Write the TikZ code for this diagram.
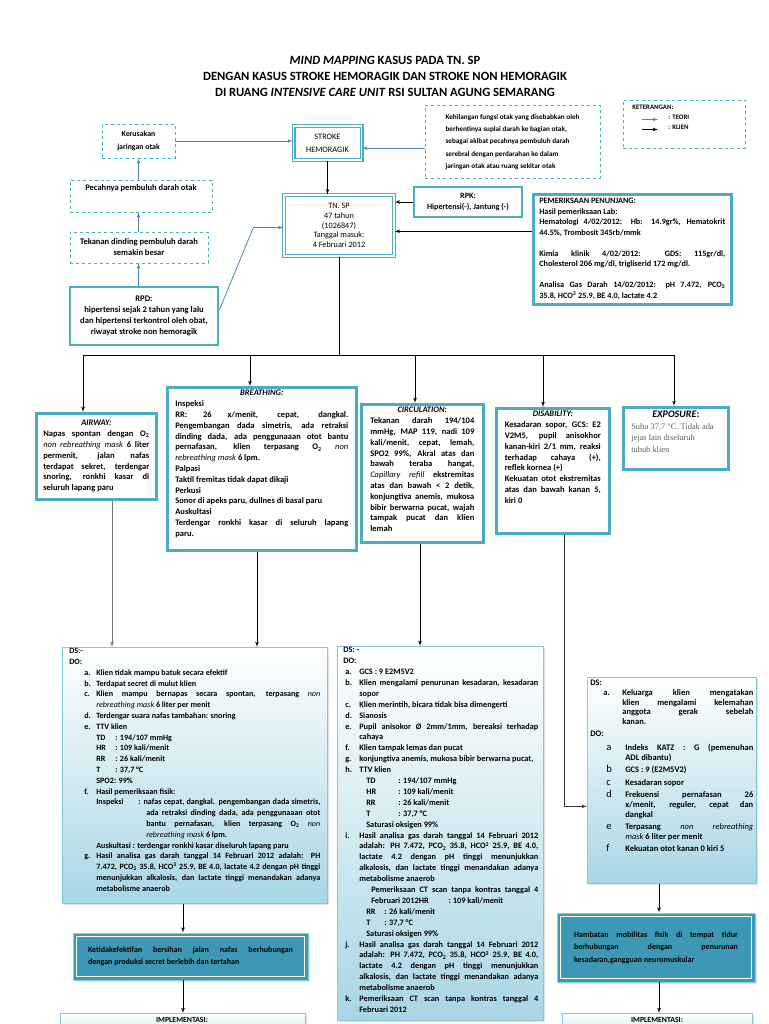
\documentclass[tikz,border=0pt]{standalone}
\usepackage{fontspec}
\setmainfont{Carlito}
\newfontfamily\exposurefont{Liberation Serif}
\usepackage{tikz}
\usetikzlibrary{arrows, positioning, shadows}

\definecolor{aqua}{RGB}{75,172,198}
\definecolor{teoriblue}{RGB}{79,129,189}
\definecolor{aqualight}{RGB}{168,214,228}
\definecolor{aquadeep}{RGB}{60,152,181}
\definecolor{aquaedge}{RGB}{135,198,216}
\definecolor{exposuregray}{RGB}{95,95,95}

\hyphenpenalty=10000
\exhyphenpenalty=10000
\tolerance=9999
\emergencystretch=2em
\hbadness=10000
\vbadness=10000
\hfuzz=4pt
\vfuzz=40pt

% Word-like spacing: spaces may stretch but never shrink
\newcommand{\noshrink}{\spaceskip=\fontdimen2\font plus 1.5\fontdimen3\font\relax}
\newcommand{\bodyfont}{\fontsize{8.5}{10.8}\selectfont\bfseries\noshrink}
\newcommand{\ital}[1]{{\mdseries\itshape #1}}
\newcommand{\tbox}[3]{\parbox[t][#2][t]{#1}{#3}}

% indents for the DS/DO lists
\newlength{\lblind}
\newlength{\txtind}
\newlength{\ttvind}
\newlength{\ttvw}
\newcommand{\itm}[2]{\par\noindent\hangindent=\txtind\hangafter=1\hspace*{\lblind}\makebox[\dimexpr\txtind-\lblind\relax][l]{#1}#2}
\newcommand{\ttv}[2]{\par\noindent\hspace*{\ttvind}\makebox[\ttvw][l]{#1}#2}
\newcommand{\subline}[1]{\par\noindent\hspace*{\ttvind}#1}
\newcommand{\ditm}[2]{\par\vspace{3pt}\noindent\hangindent=35pt\hangafter=1\hspace*{16pt}\makebox[19pt][l]{\mdseries\fontsize{10.5}{9.6}\selectfont #1}#2}

\begin{document}
\begin{tikzpicture}[x=1pt, y=-1pt]

% Define block styles
\tikzstyle{block} = [rectangle, draw=aqua, line width=2.6pt, fill=white, inner sep=0pt]
\tikzstyle{double block} = [rectangle, draw=aqua, line width=1.2pt, double=white,
  double distance=1.6pt, fill=white, align=center, inner sep=2pt]
\tikzstyle{dashbox} = [rectangle, draw=aqua, dashed, line width=0.9pt, inner sep=3pt,
  font=\fontsize{8.5}{11}\selectfont\bfseries]
\tikzstyle{theory} = [dashbox, align=center]
\tikzstyle{data} = [rectangle, draw=aquaedge, line width=0.6pt, top color=white,
  bottom color=aqualight, inner sep=0pt, anchor=north west,
  drop shadow={opacity=0.22, shadow xshift=1.5pt, shadow yshift=-1.5pt}]
\tikzstyle{problem} = [rectangle, draw=aqua!60, line width=0.8pt, fill=aquadeep,
  text width=#1, align=justify, font=\fontsize{8}{12.4}\selectfont\bfseries,
  drop shadow={opacity=0.25, shadow xshift=1.5pt, shadow yshift=-1.5pt}]
\tikzstyle{line} = [draw, -latex', line width=0.8pt]
\tikzstyle{teori line} = [line, color=teoriblue]

\useasboundingbox (0,0) rectangle (768,1024);
\clip (0,0) rectangle (768,1024);

% Title
\node [align=center, font=\fontsize{12.6}{16}\selectfont\bfseries] (judul) at (385,76)
  {\textit{MIND MAPPING} KASUS PADA TN. SP\\
   DENGAN KASUS STROKE HEMORAGIK DAN STROKE NON HEMORAGIK\\
   DI RUANG \textit{INTENSIVE CARE UNIT} RSI SULTAN AGUNG SEMARANG};

% Legend
\node [dashbox, anchor=north west, inner sep=0pt, font=\fontsize{6.8}{10}\selectfont\bfseries]
  (ket) at (623,100)
  {\tbox{122pt}{48pt}{\vspace*{5pt}\hspace*{9pt}KETERANGAN:\\
   \hspace*{45pt}: TEORI\\ \hspace*{45pt}: KLIEN}};
\coordinate (teoriL) at (642,119.5);
\coordinate (klienL) at (642,129.5);

% Nodes: theory chain
\node [theory, minimum width=73pt, minimum height=34pt,
  font=\fontsize{7.8}{13.6}\selectfont\bfseries] (kerusakan) at (138.5,141)
  {Kerusakan\\jaringan otak};
\node [dashbox, minimum width=142pt, minimum height=32pt, text height=6.5pt,
  text depth=16.5pt] (pecahnya) at (141,196) {Pecahnya pembuluh darah otak};
\node [theory, minimum width=138pt, minimum height=31pt] (tekanan) at (139,247.5)
  {Tekanan dinding pembuluh darah\\semakin besar};
\node [block, minimum width=148pt, minimum height=58pt, align=center,
  font=\fontsize{8.6}{11.2}\selectfont\bfseries] (rpd) at (144,316)
  {RPD:\\hipertensi sejak 2 tahun yang lalu\\dan hipertensi terkontrol oleh obat,\\
   riwayat stroke non hemoragik};

\node [double block, minimum width=68pt, minimum height=34pt,
  font=\fontsize{8.3}{13}\selectfont] (stroke) at (327.5,143) {STROKE\\HEMORAGIK};
\node [theory, minimum width=175pt, minimum height=73pt, align=left,
  font=\fontsize{7.2}{12.4}\selectfont\bfseries] (kehilangan) at (512.5,142)
  {Kehilangan fungsi otak yang disebabkan oleh\\
   berhentinya suplai darah ke bagian otak,\\
   sebagai akibat pecahnya pembuluh darah\\
   serebral dengan perdarahan ke dalam\\
   jaringan otak atau ruang sekitar otak};

% Nodes: client
\node [double block, minimum width=110pt, minimum height=61pt,
  font=\fontsize{8.2}{9.7}\selectfont] (tnsp) at (339,225.5)
  {TN. SP\\47 tahun\\(1026847)\\Tanggal masuk:\\4 Februari 2012};
\node [block, minimum width=108pt, minimum height=30pt, align=center,
  font=\fontsize{8.1}{10.5}\selectfont\bfseries] (rpk) at (468,202)
  {RPK:\\Hipertensi(-), Jantung (-)};
\node [block, anchor=north west] (penunjang) at (532,193)
  {\hspace*{6pt}\tbox{186pt}{110pt}{\vspace*{4pt}\fontsize{8.2}{10.5}\selectfont\bfseries\noshrink
   PEMERIKSAAN PENUNJANG:\\
   Hasil pemeriksaan Lab:\\
   Hematologi 4/02/2012: Hb: 14.9gr\%, Hematokrit\linebreak 44.5\%, Trombosit 345rb/mmk\par
   \vspace{10.5pt}
   Kimia klinik 4/02/2012: GDS: 115gr/dl,\linebreak Cholesterol 206 mg/dl, trigliserid 172 mg/dl.\par
   \vspace{10.5pt}
   Analisa Gas Darah 14/02/2012: pH 7.472, PCO\textsubscript{2}\linebreak
   35.8, HCO\textsuperscript{3} 25.9, BE 4.0, lactate 4.2}\hspace*{6pt}};

% Nodes: primary survey
\node [block, anchor=north west, minimum width=120pt, minimum height=86pt,
  text width=106pt, align=justify, inner xsep=7pt, inner ysep=3pt, font=\bodyfont]
  (airway) at (35,412)
  {{\centering\textit{AIRWAY:}\par}
   Napas spontan dengan O\textsubscript{2}\linebreak \ital{non rebreathing mask} 6 liter\linebreak
   permenit, jalan nafas\linebreak terdapat sekret, terdengar\linebreak snoring, ronkhi kasar
   di\linebreak seluruh lapang paru};
\node [block, anchor=north west] (breathing) at (166,386)
  {\hspace*{8pt}\tbox{173pt}{163pt}{\vspace*{3pt}\bodyfont
   {\centering\textit{BREATHING:}\par}
   Inspeksi\par
   RR: 26 x/menit, cepat, dangkal.\linebreak Pengembangan dada simetris, ada retraksi\linebreak
   dinding dada, ada penggunaaan otot bantu\linebreak pernafasan, klien terpasang
   O\textsubscript{2} \ital{non}\linebreak \ital{rebreathing mask} 6 lpm.\par
   Palpasi\par
   Taktil fremitas tidak dapat dikaji\par
   Perkusi\par
   Sonor di apeks paru, dullnes di basal paru\par
   Auskultasi\par
   Terdengar ronkhi kasar di seluruh lapang\linebreak paru.}\hspace*{8pt}};
\node [block, anchor=north west] (circulation) at (360,403)
  {\hspace*{9pt}\tbox{104pt}{138pt}{\vspace*{3pt}\bodyfont
   {\centering\textit{CIRCULATION:}\par}
   Tekanan darah 194/104\linebreak mmHg, MAP 119, nadi 109\linebreak kali/menit, cepat,
   lemah,\linebreak SPO2 99\%, Akral atas dan\linebreak bawah teraba hangat,\linebreak
   \ital{Capillary refill} ekstremitas\linebreak atas dan bawah < 2 detik,\linebreak
   konjungtiva anemis, mukosa\linebreak bibir berwarna pucat, wajah\linebreak tampak pucat
   dan klien\linebreak lemah}\hspace*{9pt}};
\node [block, anchor=north west] (disability) at (495,407)
  {\hspace*{8.5pt}\tbox{96pt}{125pt}{\vspace*{3pt}\bodyfont
   {\centering\textit{DISABILITY:}\par}
   Kesadaran sopor, GCS: E2\linebreak V2M5, pupil anisokhor\linebreak kanan-kiri 2/1 mm,
   reaksi\linebreak terhadap cahaya (+),\linebreak reflek kornea (+)\par
   Kekuatan otot ekstremitas\linebreak atas dan bawah kanan 5,\linebreak kiri 0}\hspace*{8.5pt}};
\node [block, anchor=north west] (exposure) at (622,406)
  {\hspace*{8pt}\tbox{89pt}{62pt}{\vspace*{4pt}
   {\centering\fontsize{10}{12}\selectfont\bfseries\textit{EXPOSURE}:\par}
   {\raggedright\exposurefont\fontsize{8.4}{11.4}\selectfont\color{exposuregray}
   Suhu 37,7 °C. Tidak ada\\ jejas lain diseluruh\\ tubuh klien\par}}\hspace*{8pt}};

% Nodes: data
\node [data] (ds1) at (62,647)
  {\hspace*{7pt}\tbox{251pt}{256pt}{\vspace*{1pt}\fontsize{8.1}{10.8}\selectfont\bfseries\noshrink
   \setlength{\lblind}{15pt}\setlength{\txtind}{27pt}%
   \setlength{\ttvind}{27pt}\setlength{\ttvw}{19pt}%
   \noindent DS:-\par\noindent DO:
   \itm{a.}{Klien tidak mampu batuk secara efektif}
   \itm{b.}{Terdapat secret di mulut klien}
   \itm{c.}{Klien mampu bernapas secara spontan, terpasang \ital{non}\linebreak
     \ital{rebreathing mask} 6 liter per menit}
   \itm{d.}{Terdengar suara nafas tambahan: snoring}
   \itm{e.}{TTV klien}
   \ttv{TD}{: 194/107 mmHg}
   \ttv{HR}{: 109 kali/menit}
   \ttv{RR}{: 26 kali/menit}
   \ttv{T}{: 37,7 °C}
   \subline{SPO2: 99\%}
   \itm{f.}{Hasil pemeriksaan fisik:}
   \par\noindent\hangindent=77pt\hangafter=1\hspace*{27pt}\makebox[42pt][l]{Inspeksi}:
   nafas cepat, dangkal. pengembangan dada simetris,\linebreak ada retraksi dinding dada, ada
   penggunaaan otot\linebreak bantu pernafasan, klien terpasang O\textsubscript{2}
   \ital{non}\linebreak \ital{rebreathing mask} 6 lpm.
   \subline{Auskultasi : terdengar ronkhi kasar diseluruh lapang paru}
   \itm{g.}{Hasil analisa gas darah tanggal 14 Februari 2012 adalah: PH\linebreak 7.472,
     PCO\textsubscript{2} 35.8, HCO\textsuperscript{3} 25.9, BE 4.0, lactate 4.2 dengan
     pH tinggi\linebreak menunjukkan alkalosis, dan lactate tinggi menandakan adanya\linebreak
     metabolisme anaerob}}\hspace*{7pt}};
\node [data] (ds2) at (337,646)
  {\hspace*{6pt}\tbox{195pt}{374pt}{\vspace*{1pt}\fontsize{8.3}{10.9}\selectfont\bfseries\noshrink
   \setlength{\lblind}{2pt}\setlength{\txtind}{16pt}%
   \setlength{\ttvind}{23pt}\setlength{\ttvw}{32pt}%
   \noindent DS: -\par\noindent DO:
   \itm{a.}{GCS : 9 E2M5V2}
   \itm{b.}{Klien mengalami penurunan kesadaran, kesadaran\linebreak sopor}
   \itm{c.}{Klien merintih, bicara tidak bisa dimengerti}
   \itm{d.}{Sianosis}
   \itm{e.}{Pupil anisokor Ø 2mm/1mm, bereaksi terhadap\linebreak cahaya}
   \itm{f.}{Klien tampak lemas dan pucat}
   \itm{g.}{konjungtiva anemis, mukosa bibir berwarna pucat,}
   \itm{h.}{TTV klien}
   \ttv{TD}{: 194/107 mmHg}
   \ttv{HR}{: 109 kali/menit}
   \ttv{RR}{: 26 kali/menit}
   \ttv{T}{: 37,7 °C}
   \subline{Saturasi oksigen 99\%}
   \itm{i.}{Hasil analisa gas darah tanggal 14 Februari 2012\linebreak adalah: PH 7.472,
     PCO\textsubscript{2} 35.8, HCO\textsuperscript{3} 25.9, BE 4.0,\linebreak lactate 4.2
     dengan pH tinggi menunjukkan\linebreak alkalosis, dan lactate tinggi menandakan
     adanya\linebreak metabolisme anaerob}
   \par\noindent\hangindent=28pt\hangafter=1\hspace*{28pt}Pemeriksaan CT scan tanpa
   kontras tanggal 4\linebreak Februari 2012HR\hspace{20pt}: 109 kali/menit
   \setlength{\ttvw}{18pt}%
   \ttv{RR}{: 26 kali/menit}
   \ttv{T}{: 37,7 °C}
   \subline{Saturasi oksigen 99\%}
   \itm{j.}{Hasil analisa gas darah tanggal 14 Februari 2012\linebreak adalah: PH 7.472,
     PCO\textsubscript{2} 35.8, HCO\textsuperscript{3} 25.9, BE 4.0,\linebreak lactate 4.2
     dengan pH tinggi menunjukkan\linebreak alkalosis, dan lactate tinggi menandakan
     adanya\linebreak metabolisme anaerob}
   \itm{k.}{Pemeriksaan CT scan tanpa kontras tanggal 4\linebreak Februari 2012}}\hspace*{5pt}};
\node [data] (ds3) at (587,677)
  {\hspace*{3pt}\tbox{163pt}{206pt}{\vspace*{3pt}\fontsize{8.5}{9.6}\selectfont\bfseries\noshrink
   \noindent DS:
   \par\noindent\hangindent=32pt\hangafter=1\hspace*{13pt}\makebox[19pt][l]{a.}Keluarga
   klien mengatakan\linebreak klien mengalami kelemahan\linebreak anggota gerak
   sebelah\linebreak kanan.
   \par\vspace{3pt}\noindent DO:\par\vspace{1pt}
   \ditm{a}{Indeks KATZ : G (pemenuhan\linebreak ADL dibantu)}
   \ditm{b}{GCS : 9 (E2M5V2)}
   \ditm{c}{Kesadaran sopor}
   \ditm{d}{Frekuensi pernafasan 26\linebreak x/menit, reguler, cepat dan\linebreak dangkal}
   \ditm{e}{Terpasang \ital{non rebreathing}\linebreak \ital{mask} 6 liter per menit}
   \ditm{f}{Kekuatan otot kanan 0 kiri 5}}\hspace*{3pt}};

% Nodes: diagnoses
\node [problem=205pt, minimum width=235pt, minimum height=47pt] (ketidak) at (190.5,956.5)
  {Ketidakefektifan bersihan jalan nafas berhubungan\linebreak dengan produksi secret
   berlebih dan tertahan};
\node [problem=164pt, minimum width=198pt, minimum height=69pt] (hambatan) at (656,947.5)
  {Hambatan mobilitas fisik di tempat tidur\linebreak berhubungan dengan
   penurunan\linebreak kesadaran,gangguan neuromuskular\par\vspace{4pt}};
\foreach \n in {ketidak, hambatan}
  \draw [white, line width=1.1pt] ([xshift=4pt,yshift=-4pt]\n.north west)
    rectangle ([xshift=-4pt,yshift=4pt]\n.south east);

\node [data, minimum width=245pt, minimum height=40pt] (impl1) at (60,1013) {};
\node [font=\fontsize{7.8}{10}\selectfont\bfseries] at (182,1020) {IMPLEMENTASI:};
\node [data, minimum width=190pt, minimum height=40pt] (impl2) at (562,1013) {};
\node [font=\fontsize{7.8}{10}\selectfont\bfseries] at (657,1020) {IMPLEMENTASI:};

% Paths: theory
\path [teori line] (teoriL) -- ++(16,0);
\path [line] (klienL) -- ++(16,0);
\path [teori line] (rpd.north -| kerusakan) -- (tekanan.south -| kerusakan);
\path [teori line] (tekanan.north -| kerusakan) -- (pecahnya.south -| kerusakan);
\path [teori line] (pecahnya.north -| kerusakan) -- (kerusakan.south);
\path [teori line] (kerusakan.east) -- (kerusakan.east -| stroke.west);
\path [teori line] ([yshift=-6pt]kehilangan.west) -- ([yshift=-6pt]kehilangan.west -| stroke.east);
\path [teori line] ([yshift=6pt]rpd.east) -- ([xshift=-30pt,yshift=-2pt]tnsp.west)
  -- ([yshift=-2pt]tnsp.west);

% Paths: client
\path [line] (stroke.south) -- (stroke.south |- tnsp.north);
\path [line] (rpk.west) -- (rpk.west -| tnsp.east);
\path [line] ([yshift=18pt]penunjang.west) -- ([yshift=18pt]penunjang.west -| tnsp.east);
\coordinate (busL) at (83,355);
\coordinate (busR) at (674,355);
\draw [line width=0.8pt] (tnsp.south) -- (tnsp.south |- busL);
\draw [line width=0.8pt] (busL) -- (busR);
\foreach \x/\n in {83/airway, 250/breathing, 415/circulation, 543/disability, 674/exposure}
  \path [line] (\x,355) -- (\x,0 |- \n.north);

\path [line, color=black!55] (112,0 |- airway.south) -- (112,0 |- ds1.north);
\path [line] (257,0 |- breathing.south) -- (257,0 |- ds1.north);
\path [line] (420,0 |- circulation.south) -- (420,0 |- ds2.north);
\path [line, color=black!80] (564,0 |- disability.south) |- ([yshift=-26pt]ds3.west);
\path [line] (183,0 |- ds1.south) -- (183,0 |- ketidak.north);
\path [line] (183,0 |- ketidak.south) -- (183,0 |- impl1.north);
\path [line] (659,0 |- ds3.south) -- (659,0 |- hambatan.north);
\path [line] (659,0 |- hambatan.south) -- (659,0 |- impl2.north);
\end{tikzpicture}
\end{document}
